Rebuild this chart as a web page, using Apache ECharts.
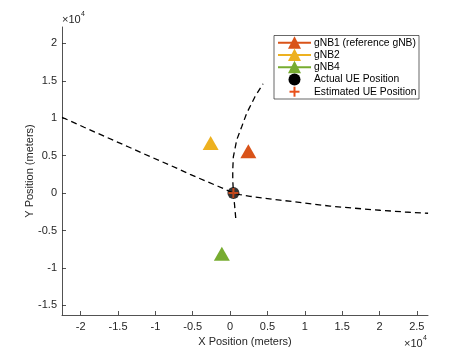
<!DOCTYPE html>
<html>
<head>
<meta charset="utf-8">
<script src="https://cdn.jsdelivr.net/npm/echarts@6/dist/echarts.min.js"></script>
<style>
html,body{margin:0;padding:0;background:#fff;}
#chart{width:474px;height:355px;}
</style>
</head>
<body>
<div id="chart"></div>
<script>
// Tick positions (meters)
const xTicks = [-20000, -15000, -10000, -5000, 0, 5000, 10000, 15000, 20000, 25000];
const yTicks = [-15000, -10000, -5000, 0, 5000, 10000, 15000, 20000];

// Hyperbola 1 (dashed)
const hyp1X = [-22490, -19545, -16600, -13650, -10710, -8030, -5350, -3350, -1610, -540, 450, 1340, 2680, 4690, 6690, 10040, 13390, 16730, 20080, 23430, 26510];
const hyp1Y = [10130, 8800, 7490, 6190, 4880, 3720, 2510, 1640, 910, 440, 0, -200, -430, -700, -940, -1340, -1740, -2030, -2300, -2530, -2700];

// Hyperbola 2 (dashed)
const hyp2X = [760, 600, 450, 360, 360, 440, 900, 1570, 2240, 3350, 4420];
const hyp2Y = [-3340, -1560, 0, 1780, 3110, 4850, 7130, 8900, 10700, 12910, 14610];

// gNB positions
const gnbNames = ['gNB1 (reference gNB)', 'gNB2', 'gNB4'];
const gnbX = [2450, -2600, -1100];
const gnbY = [5600, 6700, -8100];
const gnbColors = ['#D95319', '#EDB120', '#77AC30'];

// UE positions
const ueNames = ['Actual UE Position', 'Estimated UE Position'];
const ueActual = [450, 0];
const ueEstimated = [450, 0];
const estColor = '#E8501A';

const FONT = 'Liberation Sans, Arial, Helvetica, sans-serif';
const AX = '#262626';

const chart = echarts.init(document.getElementById('chart'), null, {renderer: 'canvas'});

const zip = (xs, ys) => xs.map((x, i) => [x, ys[i]]);

const series = [
  {
    type: 'line', name: 'hyp1', data: zip(hyp1X, hyp1Y), showSymbol: false, symbol: 'none',
    lineStyle: {color: '#000', width: 1.3, type: [6, 4]}, silent: true, z: 1
  },
  {
    type: 'line', name: 'hyp2', data: zip(hyp2X, hyp2Y), showSymbol: false, symbol: 'none',
    lineStyle: {color: '#000', width: 1.3, type: [6, 4]}, silent: true, z: 1
  }
];
gnbNames.forEach((n, i) => {
  series.push({
    type: 'line', name: n, data: [[gnbX[i], gnbY[i]]],
    symbol: 'triangle', symbolSize: [16, 14], showSymbol: true,
    itemStyle: {color: gnbColors[i]},
    lineStyle: {color: gnbColors[i], width: 2}, z: 3
  });
});
series.push({
  type: 'scatter', name: ueNames[0], data: [ueActual],
  symbol: 'circle', symbolSize: 12, itemStyle: {color: '#000'}, z: 4
});
series.push({
  type: 'scatter', name: ueNames[1], data: [ueEstimated],
  symbol: 'path://M4,0H6V4H10V6H6V10H4V6H0V4H4Z', symbolSize: 10,
  itemStyle: {color: estColor}, z: 5
});

// Legend (drawn as graphic elements for exact MATLAB-like layout)
const LG = {left: 274, top: 35.5, w: 145, h: 63.5, iconL: 278, iconR: 311, textX: 314, row0: 42.7, step: 12.25};
const legendEls = [
  {type: 'rect', shape: {x: LG.left, y: LG.top, width: LG.w, height: LG.h},
    style: {fill: '#fff', stroke: AX, lineWidth: 0.7}, z: 20}
];
const cx = (LG.iconL + LG.iconR) / 2;
const allNames = [...gnbNames, ...ueNames];
allNames.forEach((n, i) => {
  const cy = LG.row0 + i * LG.step;
  if (i < gnbNames.length) {
    legendEls.push({type: 'line', shape: {x1: LG.iconL, y1: cy, x2: LG.iconR, y2: cy},
      style: {stroke: gnbColors[i], lineWidth: 2}, z: 21});
    legendEls.push({type: 'polygon', shape: {points: [[cx - 6.5, cy + 6], [cx + 6.5, cy + 6], [cx, cy - 6.5]]},
      style: {fill: gnbColors[i]}, z: 22});
  } else if (i === gnbNames.length) {
    legendEls.push({type: 'circle', shape: {cx: cx, cy: cy, r: 6}, style: {fill: '#000'}, z: 22});
  } else {
    legendEls.push({type: 'rect', shape: {x: cx - 5, y: cy - 1, width: 10, height: 2}, style: {fill: estColor}, z: 22});
    legendEls.push({type: 'rect', shape: {x: cx - 1, y: cy - 5, width: 2, height: 10}, style: {fill: estColor}, z: 22});
  }
  legendEls.push({type: 'text', x: LG.textX, y: cy, z: 22,
    style: {text: n, fontSize: 10.3, fill: '#000', fontFamily: FONT, verticalAlign: 'middle', align: 'left'}});
});

const option = {
  animation: false,
  backgroundColor: '#fff',
  textStyle: {fontFamily: FONT},
  grid: {left: 62, right: 46, top: 27, bottom: 40, containLabel: false},
  xAxis: {
    type: 'value', min: -22500, max: 26500,
    name: 'X Position (meters)', nameLocation: 'middle', nameGap: 21, nameMoveOverlap: false,
    nameTextStyle: {fontSize: 11, color: AX, fontFamily: FONT},
    axisLine: {show: true, onZero: false, lineStyle: {color: AX, width: 0.8}},
    axisTick: {show: true, inside: true, length: 4, customValues: xTicks, lineStyle: {color: AX, width: 0.8}},
    axisLabel: {customValues: xTicks, fontSize: 11, color: AX, margin: 6, fontFamily: FONT,
      formatter: v => String(Math.round(v / 1000) / 10)},
    splitLine: {show: false}
  },
  yAxis: {
    type: 'value', min: -16300, max: 22200,
    name: 'Y Position (meters)', nameLocation: 'middle', nameGap: 27, nameRotate: 90, nameMoveOverlap: false,
    nameTextStyle: {fontSize: 11, color: AX, fontFamily: FONT},
    axisLine: {show: true, onZero: false, lineStyle: {color: AX, width: 0.8}},
    axisTick: {show: true, inside: true, length: 4, customValues: yTicks, lineStyle: {color: AX, width: 0.8}},
    axisLabel: {customValues: yTicks, fontSize: 11, color: AX, margin: 5, fontFamily: FONT,
      formatter: v => String(Math.round(v / 1000) / 10)},
    splitLine: {show: false}
  },
  graphic: [
    ...legendEls,
    {type: 'text', left: 62, top: 14, z: 10, style: {text: '×10', fontSize: 11, fill: AX, fontFamily: FONT}},
    {type: 'text', left: 81, top: 11, z: 10, style: {text: '4', fontSize: 7, fill: AX, fontFamily: FONT}},
    {type: 'text', left: 404, top: 338, z: 10, style: {text: '×10', fontSize: 11, fill: AX, fontFamily: FONT}},
    {type: 'text', left: 423, top: 335, z: 10, style: {text: '4', fontSize: 7, fill: AX, fontFamily: FONT}}
  ],
  series: series
};
chart.setOption(option);
</script>
</body>
</html>
